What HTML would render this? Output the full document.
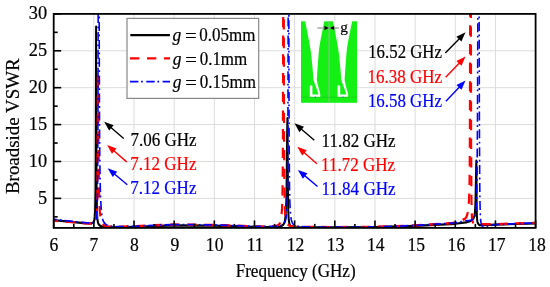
<!DOCTYPE html>
<html><head><meta charset="utf-8"><style>html,body{margin:0;padding:0;background:#fff;}svg{display:block;font-family:"Liberation Serif",serif;}</style></head>
<body>
<svg width="550" height="287" viewBox="0 0 550 287">
<rect width="550" height="287" fill="#fff"/>
<g stroke="#dcdcdc" stroke-width="1"><line x1="93.86" y1="13.90" x2="93.86" y2="227.90"/><line x1="134.02" y1="13.90" x2="134.02" y2="227.90"/><line x1="174.18" y1="13.90" x2="174.18" y2="227.90"/><line x1="214.33" y1="13.90" x2="214.33" y2="227.90"/><line x1="254.49" y1="13.90" x2="254.49" y2="227.90"/><line x1="294.65" y1="13.90" x2="294.65" y2="227.90"/><line x1="334.81" y1="13.90" x2="334.81" y2="227.90"/><line x1="374.97" y1="13.90" x2="374.97" y2="227.90"/><line x1="415.12" y1="13.90" x2="415.12" y2="227.90"/><line x1="455.28" y1="13.90" x2="455.28" y2="227.90"/><line x1="495.44" y1="13.90" x2="495.44" y2="227.90"/><line x1="53.70" y1="198.38" x2="535.60" y2="198.38"/><line x1="53.70" y1="161.49" x2="535.60" y2="161.49"/><line x1="53.70" y1="124.59" x2="535.60" y2="124.59"/><line x1="53.70" y1="87.69" x2="535.60" y2="87.69"/><line x1="53.70" y1="50.80" x2="535.60" y2="50.80"/></g>
<defs><clipPath id="c"><rect x="53.7" y="13.9" width="481.90" height="214.00"/></clipPath></defs>
<g clip-path="url(#c)" fill="none" stroke-linejoin="round"><g transform="scale(0.91,1)">
<polyline points="59.01,220.22 92.02,223.11 98.44,223.47 100.58,223.30 101.96,222.77 102.55,222.29 102.96,221.75 103.60,220.02 104.14,216.38 104.51,210.43 104.98,187.22 105.23,145.48 105.61,26.67 106.02,166.98 106.22,194.09 106.52,209.74 106.96,218.18 107.28,220.79 107.71,222.68 108.28,224.01 109.05,225.00 110.16,225.82 111.77,226.59 115.54,226.95 125.23,227.27 147.31,226.78 191.46,225.31 235.60,225.68 279.53,226.97 294.10,226.98 300.99,226.89 305.28,226.67 308.13,226.27 310.04,225.60 311.01,224.93 311.78,224.01 312.41,222.79 312.92,221.23 313.69,216.70 314.25,209.46 314.63,199.70 314.94,185.83 315.65,126.09 315.85,118.03 316.39,188.96 316.88,213.05 317.28,219.45 317.87,223.22 318.28,224.43 318.80,225.32 319.46,225.97 320.33,226.43 321.79,226.81 323.95,227.05 332.63,227.32 367.83,227.30 412.20,227.01 456.13,225.83 500.27,223.78 512.08,222.29 513.55,222.05 516.17,221.35 517.67,220.76 518.78,220.11 519.56,219.39 520.48,218.16 521.21,216.37 521.76,213.22 522.19,207.98 522.55,199.90 523.28,165.07 523.48,160.56 523.78,201.84 524.06,215.71 524.29,219.41 524.63,221.76 525.16,223.26 526.05,224.40 526.80,225.04 529.57,225.12 544.42,224.57 588.57,223.47" stroke="#000" stroke-width="2.20"/>
<g stroke="#f00" stroke-width="2.40" stroke-dasharray="10.30 8.40"><polyline points="311.20,2.83 310.91,136.97 310.70,171.27 310.39,194.14 309.95,208.11 309.28,216.79 308.82,219.68 308.26,221.78 307.54,223.32 306.61,224.42 305.09,225.32 302.90,225.86 299.44,226.18 294.09,226.34 279.53,226.36 235.60,224.94 191.46,224.56 169.38,225.29 147.31,226.37 125.21,226.91 120.42,226.65 117.22,226.26 114.98,225.67 113.36,224.79 112.40,223.82 111.73,222.67 111.05,220.72 110.50,218.25 109.72,211.54 109.16,201.19 108.77,187.35 108.46,167.72 107.75,83.57 107.55,72.18 107.18,164.01 106.92,196.27 106.45,214.18 106.07,218.85 105.53,221.57 104.92,222.79 104.04,223.42 103.19,223.58 99.86,223.61 93.85,223.28 59.01,220.66" stroke-dashoffset="4.63"/><polyline points="311.20,2.83 311.84,2.83 312.10,129.90 312.55,189.04 312.86,202.70 313.27,211.83 313.87,218.00 314.26,220.15 314.73,221.85 315.24,223.06 315.83,223.98 316.55,224.71 317.44,225.29 318.53,225.73 319.90,226.07 323.90,226.53 332.51,226.89 342.00,226.99 367.83,227.14 388.14,227.04" stroke-dashoffset="1.73"/><polyline points="516.64,2.83 516.36,130.79 516.17,163.92 515.90,185.29 515.51,198.12 514.87,206.74 514.41,210.22 513.87,213.01 513.22,215.26 512.47,216.93 511.69,218.01 510.75,218.80 506.34,220.86 503.80,221.73 500.34,222.69 496.96,223.00 483.72,223.89 456.13,225.43 411.98,226.93 388.14,227.04" stroke-dashoffset="15.03"/><polyline points="516.64,2.83 517.45,2.83 517.46,3.60 517.68,135.22 518.02,196.39 518.44,214.46 518.76,218.84 519.24,221.37 519.89,222.60 520.86,223.23 522.72,223.66 526.81,224.19 544.42,224.21 588.57,222.88" stroke-dashoffset="13.03"/></g>
<g stroke="#00f" stroke-width="1.75" stroke-dasharray="9.00 3.50 1.80 3.60"><polyline points="107.88,2.83 107.65,118.87 107.31,178.69 107.07,195.47 106.74,206.70 106.29,214.07 105.63,218.72 104.89,220.91 104.42,221.64 103.85,222.16 103.07,222.53 101.65,222.82 99.35,223.01 95.95,222.91 90.56,222.48 59.01,219.40" stroke-dashoffset="6.73"/><polyline points="107.88,2.83 108.89,2.83 108.90,2.94 109.38,124.06 109.70,159.46 110.12,184.00 110.58,198.25 111.20,208.55 111.97,215.28 112.50,217.91 113.10,219.98 113.80,221.58 114.62,222.86 115.62,223.89 116.80,224.69 118.28,225.34 120.09,225.84 125.21,226.59 133.18,226.63 147.09,226.32 169.38,225.27 187.70,224.67" stroke-dashoffset="15.63"/><polyline points="316.69,2.83 316.40,130.07 315.91,187.94 315.52,203.10 314.94,212.95 314.56,216.39 314.09,219.10 313.52,221.18 312.80,222.79 312.08,223.79 311.18,224.58 310.09,225.16 308.73,225.59 304.92,226.10 298.07,226.33 279.53,226.36 235.38,224.92 191.46,224.55 187.70,224.67" stroke-dashoffset="3.13"/><polyline points="316.69,2.83 317.39,2.83 317.39,2.97 317.67,128.08 318.15,187.34 318.49,201.04 318.95,210.55 319.59,216.93 320.01,219.27 320.50,221.10 321.02,222.43 321.65,223.50 322.40,224.35 323.34,225.03 324.47,225.55 325.84,225.95 329.83,226.51 336.26,226.82 349.29,227.01 367.83,227.13 389.90,227.03" stroke-dashoffset="17.63"/><polyline points="525.12,2.83 524.69,122.41 524.11,182.99 523.71,198.83 523.19,208.55 522.43,214.41 521.92,216.29 521.27,217.74 520.66,218.55 519.92,219.20 519.01,219.69 517.89,220.04 516.04,220.35 513.56,220.51 508.47,221.47 500.27,222.80 456.13,225.45 412.20,226.92 389.90,227.03" stroke-dashoffset="15.33"/><polyline points="525.12,2.83 526.50,2.83 526.79,118.94 527.18,183.87 527.43,201.44 527.74,213.04 528.18,220.11 528.82,224.09 529.29,225.27 529.89,226.00 530.70,226.37 531.90,226.48 534.96,226.14 544.42,224.57 588.57,222.88" stroke-dashoffset="15.33"/></g>
</g></g>
<g stroke="#000" stroke-width="1.6"><line x1="53.70" y1="227.90" x2="53.70" y2="220.40"/><line x1="73.78" y1="227.90" x2="73.78" y2="223.90"/><line x1="93.86" y1="227.90" x2="93.86" y2="220.40"/><line x1="113.94" y1="227.90" x2="113.94" y2="223.90"/><line x1="134.02" y1="227.90" x2="134.02" y2="220.40"/><line x1="154.10" y1="227.90" x2="154.10" y2="223.90"/><line x1="174.18" y1="227.90" x2="174.18" y2="220.40"/><line x1="194.25" y1="227.90" x2="194.25" y2="223.90"/><line x1="214.33" y1="227.90" x2="214.33" y2="220.40"/><line x1="234.41" y1="227.90" x2="234.41" y2="223.90"/><line x1="254.49" y1="227.90" x2="254.49" y2="220.40"/><line x1="274.57" y1="227.90" x2="274.57" y2="223.90"/><line x1="294.65" y1="227.90" x2="294.65" y2="220.40"/><line x1="314.73" y1="227.90" x2="314.73" y2="223.90"/><line x1="334.81" y1="227.90" x2="334.81" y2="220.40"/><line x1="354.89" y1="227.90" x2="354.89" y2="223.90"/><line x1="374.97" y1="227.90" x2="374.97" y2="220.40"/><line x1="395.05" y1="227.90" x2="395.05" y2="223.90"/><line x1="415.12" y1="227.90" x2="415.12" y2="220.40"/><line x1="435.20" y1="227.90" x2="435.20" y2="223.90"/><line x1="455.28" y1="227.90" x2="455.28" y2="220.40"/><line x1="475.36" y1="227.90" x2="475.36" y2="223.90"/><line x1="495.44" y1="227.90" x2="495.44" y2="220.40"/><line x1="515.52" y1="227.90" x2="515.52" y2="223.90"/><line x1="535.60" y1="227.90" x2="535.60" y2="220.40"/><line x1="53.70" y1="198.38" x2="61.20" y2="198.38"/><line x1="53.70" y1="161.49" x2="61.20" y2="161.49"/><line x1="53.70" y1="124.59" x2="61.20" y2="124.59"/><line x1="53.70" y1="87.69" x2="61.20" y2="87.69"/><line x1="53.70" y1="50.80" x2="61.20" y2="50.80"/><line x1="53.70" y1="13.90" x2="61.20" y2="13.90"/><line x1="53.70" y1="216.83" x2="57.70" y2="216.83"/><line x1="53.70" y1="179.93" x2="57.70" y2="179.93"/><line x1="53.70" y1="143.04" x2="57.70" y2="143.04"/><line x1="53.70" y1="106.14" x2="57.70" y2="106.14"/><line x1="53.70" y1="69.24" x2="57.70" y2="69.24"/><line x1="53.70" y1="32.35" x2="57.70" y2="32.35"/></g>
<rect x="53.7" y="13.9" width="481.90" height="214.00" fill="none" stroke="#000" stroke-width="1.8"/>
<g font-family="Liberation Serif, serif">
<text x="49.40" y="250.90" font-size="18.50" fill="#000" textLength="8.79" lengthAdjust="spacingAndGlyphs" stroke="#000" stroke-width="0.20">6</text><text x="89.48" y="250.90" font-size="18.50" fill="#000" textLength="8.79" lengthAdjust="spacingAndGlyphs" stroke="#000" stroke-width="0.20">7</text><text x="130.11" y="250.90" font-size="18.50" fill="#000" textLength="8.79" lengthAdjust="spacingAndGlyphs" stroke="#000" stroke-width="0.20">8</text><text x="170.47" y="250.90" font-size="18.50" fill="#000" textLength="8.79" lengthAdjust="spacingAndGlyphs" stroke="#000" stroke-width="0.20">9</text><text x="205.87" y="250.90" font-size="18.50" fill="#000" textLength="17.58" lengthAdjust="spacingAndGlyphs" stroke="#000" stroke-width="0.20">10</text><text x="246.70" y="250.90" font-size="18.50" fill="#000" textLength="16.92" lengthAdjust="spacingAndGlyphs" stroke="#000" stroke-width="0.20">11</text><text x="286.63" y="250.90" font-size="18.50" fill="#000" textLength="17.58" lengthAdjust="spacingAndGlyphs" stroke="#000" stroke-width="0.20">12</text><text x="326.80" y="250.90" font-size="18.50" fill="#000" textLength="17.57" lengthAdjust="spacingAndGlyphs" stroke="#000" stroke-width="0.20">13</text><text x="366.88" y="250.90" font-size="18.50" fill="#000" textLength="17.58" lengthAdjust="spacingAndGlyphs" stroke="#000" stroke-width="0.20">14</text><text x="407.40" y="250.90" font-size="18.50" fill="#000" textLength="17.57" lengthAdjust="spacingAndGlyphs" stroke="#000" stroke-width="0.20">15</text><text x="447.61" y="250.90" font-size="18.50" fill="#000" textLength="17.57" lengthAdjust="spacingAndGlyphs" stroke="#000" stroke-width="0.20">16</text><text x="487.89" y="250.90" font-size="18.50" fill="#000" textLength="17.57" lengthAdjust="spacingAndGlyphs" stroke="#000" stroke-width="0.20">17</text><text x="528.27" y="250.90" font-size="18.50" fill="#000" textLength="17.57" lengthAdjust="spacingAndGlyphs" stroke="#000" stroke-width="0.20">18</text><text x="37.98" y="203.88" font-size="18.50" fill="#000" textLength="9.16" lengthAdjust="spacingAndGlyphs" stroke="#000" stroke-width="0.20">5</text><text x="28.77" y="166.99" font-size="18.50" fill="#000" textLength="18.32" lengthAdjust="spacingAndGlyphs" stroke="#000" stroke-width="0.20">10</text><text x="28.82" y="130.09" font-size="18.50" fill="#000" textLength="18.32" lengthAdjust="spacingAndGlyphs" stroke="#000" stroke-width="0.20">15</text><text x="28.77" y="93.19" font-size="18.50" fill="#000" textLength="18.31" lengthAdjust="spacingAndGlyphs" stroke="#000" stroke-width="0.20">20</text><text x="28.82" y="56.30" font-size="18.50" fill="#000" textLength="18.32" lengthAdjust="spacingAndGlyphs" stroke="#000" stroke-width="0.20">25</text><text x="28.77" y="19.40" font-size="18.50" fill="#000" textLength="18.32" lengthAdjust="spacingAndGlyphs" stroke="#000" stroke-width="0.20">30</text>
<text x="235.63" y="277.00" font-size="18.60" fill="#000" textLength="120.00" lengthAdjust="spacingAndGlyphs" stroke="#000" stroke-width="0.20">Frequency (GHz)</text>
<g transform="translate(19.1,193.5) rotate(-90)"><text x="-0.52" y="0.00" font-size="18.00" fill="#000" textLength="135.64" lengthAdjust="spacingAndGlyphs" stroke="#000" stroke-width="0.20">Broadside VSWR</text></g>
</g>
<rect x="127" y="18.4" width="131.7" height="80" fill="#fff" stroke="#888" stroke-width="1.2"/>
<line x1="130.3" y1="35.1" x2="169.9" y2="35.1" stroke="#000" stroke-width="2.2"/>
<line x1="130" y1="58.4" x2="170" y2="58.4" stroke="#f00" stroke-width="2.2" stroke-dasharray="9.3 7.7"/>
<line x1="130" y1="81.6" x2="170" y2="81.6" stroke="#00f" stroke-width="1.7" stroke-dasharray="8.4 2.7 1.7 3.5"/>
<g font-family="Liberation Serif, serif"><text x="172.50" y="41.40" font-size="18.00" fill="#000" textLength="8.72" lengthAdjust="spacingAndGlyphs" font-style="italic" stroke="#000" stroke-width="0.20">g</text><text x="185.07" y="42.30" font-size="18.00" fill="#000" textLength="11.64" lengthAdjust="spacingAndGlyphs" stroke="#000" stroke-width="0.20">=</text><text x="199.26" y="41.40" font-size="18.00" fill="#000" textLength="56.20" lengthAdjust="spacingAndGlyphs" stroke="#000" stroke-width="0.20">0.05mm</text><text x="172.70" y="64.60" font-size="18.00" fill="#000" textLength="8.72" lengthAdjust="spacingAndGlyphs" font-style="italic" stroke="#000" stroke-width="0.20">g</text><text x="185.27" y="65.50" font-size="18.00" fill="#000" textLength="11.64" lengthAdjust="spacingAndGlyphs" stroke="#000" stroke-width="0.20">=</text><text x="199.66" y="64.60" font-size="18.00" fill="#000" textLength="47.60" lengthAdjust="spacingAndGlyphs" stroke="#000" stroke-width="0.20">0.1mm</text><text x="172.70" y="88.00" font-size="18.00" fill="#000" textLength="8.72" lengthAdjust="spacingAndGlyphs" font-style="italic" stroke="#000" stroke-width="0.20">g</text><text x="185.27" y="88.90" font-size="18.00" fill="#000" textLength="11.64" lengthAdjust="spacingAndGlyphs" stroke="#000" stroke-width="0.20">=</text><text x="199.66" y="88.00" font-size="18.00" fill="#000" textLength="56.31" lengthAdjust="spacingAndGlyphs" stroke="#000" stroke-width="0.20">0.15mm</text></g>
<g font-family="Liberation Serif, serif"><text x="130.40" y="145.60" font-size="18.00" fill="#000" textLength="66.08" lengthAdjust="spacingAndGlyphs" stroke="#000" stroke-width="0.20">7.06 GHz</text><text x="130.19" y="169.90" font-size="18.00" fill="#f00" textLength="66.29" lengthAdjust="spacingAndGlyphs" stroke="#f00" stroke-width="0.20">7.12 GHz</text><text x="130.19" y="193.70" font-size="18.00" fill="#00f" textLength="66.29" lengthAdjust="spacingAndGlyphs" stroke="#00f" stroke-width="0.20">7.12 GHz</text><text x="321.61" y="146.80" font-size="18.00" fill="#000" textLength="73.97" lengthAdjust="spacingAndGlyphs" stroke="#000" stroke-width="0.20">11.82 GHz</text><text x="321.11" y="170.60" font-size="18.00" fill="#f00" textLength="73.97" lengthAdjust="spacingAndGlyphs" stroke="#f00" stroke-width="0.20">11.72 GHz</text><text x="321.41" y="194.90" font-size="18.00" fill="#00f" textLength="74.18" lengthAdjust="spacingAndGlyphs" stroke="#00f" stroke-width="0.20">11.84 GHz</text><text x="368.23" y="57.80" font-size="18.00" fill="#000" textLength="73.75" lengthAdjust="spacingAndGlyphs" stroke="#000" stroke-width="0.20">16.52 GHz</text><text x="367.41" y="82.60" font-size="18.00" fill="#f00" textLength="74.57" lengthAdjust="spacingAndGlyphs" stroke="#f00" stroke-width="0.20">16.38 GHz</text><text x="367.92" y="106.60" font-size="18.00" fill="#00f" textLength="74.05" lengthAdjust="spacingAndGlyphs" stroke="#00f" stroke-width="0.20">16.58 GHz</text></g>
<line x1="123.70" y1="138.50" x2="110.64" y2="127.25" stroke="#000" stroke-width="1.4"/><path d="M104.20,121.70 L113.68,125.25 L109.11,130.55 Z" fill="#000"/><line x1="126.70" y1="161.90" x2="113.54" y2="150.55" stroke="#f00" stroke-width="1.4"/><path d="M107.10,145.00 L116.58,148.55 L112.01,153.85 Z" fill="#f00"/><line x1="127.30" y1="184.80" x2="114.19" y2="173.69" stroke="#00f" stroke-width="1.4"/><path d="M107.70,168.20 L117.21,171.67 L112.69,177.01 Z" fill="#00f"/><line x1="314.30" y1="140.30" x2="300.95" y2="128.84" stroke="#000" stroke-width="1.4"/><path d="M294.50,123.30 L303.99,126.83 L299.43,132.14 Z" fill="#000"/><line x1="316.90" y1="163.70" x2="303.72" y2="152.27" stroke="#f00" stroke-width="1.4"/><path d="M297.30,146.70 L306.77,150.28 L302.18,155.57 Z" fill="#f00"/><line x1="317.50" y1="186.50" x2="304.39" y2="175.39" stroke="#00f" stroke-width="1.4"/><path d="M297.90,169.90 L307.41,173.37 L302.89,178.71 Z" fill="#00f"/><line x1="445.30" y1="53.10" x2="459.58" y2="38.40" stroke="#000" stroke-width="1.4"/><path d="M465.50,32.30 L461.39,41.55 L456.37,36.68 Z" fill="#000"/><line x1="445.70" y1="77.30" x2="459.64" y2="62.66" stroke="#f00" stroke-width="1.4"/><path d="M465.50,56.50 L461.48,65.79 L456.41,60.97 Z" fill="#f00"/><line x1="445.90" y1="101.30" x2="459.67" y2="86.69" stroke="#00f" stroke-width="1.4"/><path d="M465.50,80.50 L461.53,89.81 L456.44,85.01 Z" fill="#00f"/>
<g>
<rect x="301" y="21.3" width="56" height="81.5" fill="#14f014"/>
<g fill="#fff">
<path d="M305.1,21 L324.4,21 C322,33 319.5,44 318.8,52 C318,62 317.3,72 316.8,80 C317.6,85 319.5,90 320.3,94.5 L320.3,97 L309.8,97 L309.8,85.5 L312.4,85.5 L312.4,94.5 L318.4,94.5 C317.6,90 315,85 313.5,80 C313,72 312,62 310.9,52 C309.8,44 307.5,33 305.1,21 Z"/>
</g>
<g fill="#fff" transform="translate(27.8,0)"><path d="M305.1,21 L324.4,21 C322,33 319.5,44 318.8,52 C318,62 317.3,72 316.8,80 C317.6,85 319.5,90 320.3,94.5 L320.3,97 L309.8,97 L309.8,85.5 L312.4,85.5 L312.4,94.5 L318.4,94.5 C317.6,90 315,85 313.5,80 C313,72 312,62 310.9,52 C309.8,44 307.5,33 305.1,21 Z"/></g>
<line x1="329.1" y1="21.3" x2="329.1" y2="102.8" stroke="#7cc47c" stroke-width="1.3"/>
<line x1="301" y1="97.2" x2="357" y2="97.2" stroke="#18c818" stroke-width="0.7"/>
<circle cx="315.3" cy="97.3" r="0.8" fill="#5a5af0"/><circle cx="343.1" cy="97.3" r="0.8" fill="#5a5af0"/>
<line x1="317.4" y1="28" x2="338.8" y2="28" stroke="#999" stroke-width="1.3"/>
<path d="M324.5,25.8 L328.6,28 L324.5,30.2 Z M334.2,25.8 L330.1,28 L334.2,30.2 Z" fill="#000"/>
<text x="340.35" y="31.60" font-size="15.50" fill="#000" textLength="7.66" lengthAdjust="spacingAndGlyphs" stroke="#000" stroke-width="0.20">g</text>
</g>
</svg>
</body></html>
